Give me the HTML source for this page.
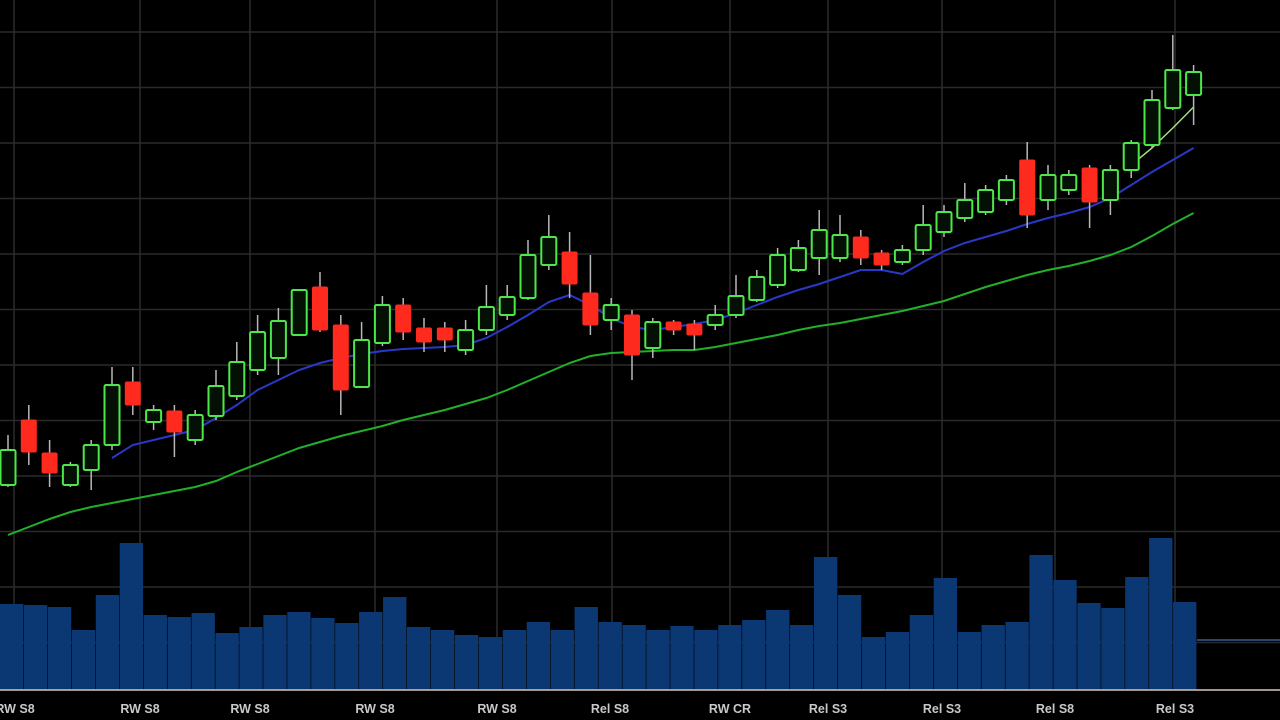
<!DOCTYPE html>
<html><head><meta charset="utf-8">
<style>
html,body{margin:0;padding:0;background:#000;}
svg{display:block;}
text{font-family:"Liberation Sans",sans-serif;}
</style></head>
<body>
<svg id="chart" width="1280" height="720" xmlns="http://www.w3.org/2000/svg">
<rect x="0" y="0" width="1280" height="720" fill="#000"/>
<g id="grid"></g>
<g id="volume"></g>
<g id="mas"></g>
<g id="candles"></g>
<g id="xaxis"></g>
</svg>
<script>
const opens  = [75,140,107,75,90,115,178,138,149,120,144,164,190,202,225,273,235,173,217,255,232,232,210,230,245,262,295,308,267,240,245,212,238,236,235,245,260,275,290,302,302,323,307,298,310,328,342,348,360,400,360,370,392,360,390,415,452,465];
const highs  = [125,155,120,98,120,193,193,155,155,150,190,218,245,252,270,288,245,238,264,262,242,238,240,275,275,320,345,328,305,262,250,242,240,240,255,285,290,312,320,350,345,330,310,315,355,355,377,375,385,418,395,390,395,395,420,470,525,495];
const lows   = [73,95,73,73,70,110,145,130,103,115,140,160,185,185,225,228,145,172,214,220,208,208,205,225,240,260,290,262,225,230,180,202,225,210,230,242,258,272,288,285,298,295,290,295,305,323,338,345,355,332,350,365,332,345,382,412,450,435];
const closes = [110,108,87,95,115,175,155,150,128,145,174,198,228,239,270,230,170,220,255,228,218,220,230,253,263,305,323,276,235,255,205,238,230,225,245,264,283,305,312,330,325,302,295,310,335,348,360,370,380,345,385,385,358,390,417,460,490,488];
const maFastStart = 5;
const maFast = [102,115,120,125,130,142,155,170,180,190,197,202,206,209,211,212,213,215,222,233,245,258,265,255,242,233,230,233,236,240,247,255,263,270,276,283,290,290,286,298,309,317,323,329,336,342,347,353,362,375,388,400,412];
const maSlow = [25,33,41,48,53,57,61,65,69,73,79,88,96,104,112,118,124,129,134,140,145,150,156,162,170,179,188,197,204,207,208,209,210,210,213,217,221,225,230,234,237,241,245,249,254,259,266,273,279,285,290,294,299,305,313,324,336,347];
const maShortStart = 54;
const maShort = [395,412,432,453];
const volumes = [86,85,83,60,95,147,75,73,77,57,63,75,78,72,67,78,93,63,60,55,53,60,68,60,83,68,65,60,64,60,65,70,80,65,133,95,53,58,75,112,58,65,68,135,110,87,82,113,152,88];
const xLabels = ["RW S8","RW S8","RW S8","RW S8","RW S8","Rel S8","RW CR","Rel S3","Rel S3","Rel S8","Rel S3"];
const xLabelPos = [15,140,250,375,497,610,730,828,942,1055,1175];

const NS="http://www.w3.org/2000/svg";
function mk(tag,attrs,parent){const e=document.createElementNS(NS,tag);for(const k in attrs)e.setAttribute(k,attrs[k]);parent.appendChild(e);return e;}
const xScale=i=>8+i*20.8;
const yScale=v=>560-v;
const vScale=v=>690-v;
const volW=1197/volumes.length;

const grid=document.getElementById('grid');
[14,140,250,375,497,612,730,828,942,1055,1175].forEach(x=>{
  const l=mk('line',{x1:x,x2:x,y1:0,y2:690,stroke:'#2c2c2c','stroke-width':1.5},grid);
  
  
});
for(let k=0;k<12;k++){const y=32+55.5*k;
  const l=mk('line',{x1:0,x2:1280,y1:y,y2:y,stroke:'#2a2a2a','stroke-width':1.5},grid);
  
  
}

const vg=document.getElementById('volume');
volumes.forEach((v,i)=>{
  const r=mk('rect',{x:i*volW,y:vScale(v),width:volW-0.6,height:v,fill:'#0b3772'},vg);
  
  
});
const rl=mk('line',{x1:1197,x2:1280,y1:640,y2:640,stroke:'#2a4670','stroke-width':2},vg);



const mg=document.getElementById('mas');
function line(arr,start,color,w,name){
  const pts=arr.map((v,j)=>xScale(start+j)+','+yScale(v)).join(' ');
  const p=mk('polyline',{points:pts,fill:'none',stroke:color,'stroke-width':w},mg);
  
  
}
line(maSlow,0,'#22b02a',2,'moving-average-slow');
line(maFast,maFastStart,'#2a38c8',2,'moving-average-fast');
line(maShort,maShortStart,'#a6e07a',1.5,'moving-average-short');

const cg=document.getElementById('candles');
opens.forEach((o,i)=>{
  const c=closes[i],x=xScale(i),up=c>=o;
  const w=mk('line',{x1:x,x2:x,y1:yScale(highs[i]),y2:yScale(lows[i]),stroke:'#b8b8b8','stroke-width':1.5},cg);
  
  
  const top=yScale(Math.max(o,c)),h=Math.max(3,Math.abs(c-o));
  const b=mk('rect',{x:x-7.5,y:top,width:15,height:h,rx:1.5,
    fill:up?'#041004':'#ff2a1e',stroke:up?'#4ce84a':'#ff2a1e','stroke-width':up?2:1},cg);
  
  
});

const xg=document.getElementById('xaxis');
const ax=mk('line',{x1:0,x2:1280,y1:690,y2:690,stroke:'#d8c8b8','stroke-width':1.5},xg);


xLabels.forEach((t,i)=>{
  const e=mk('text',{x:xLabelPos[i],y:713,fill:'#c8c8c8','font-size':12.5,'font-weight':'bold','text-anchor':'middle'},xg);
  e.textContent=t;
  
  
});
</script>
</body></html>
